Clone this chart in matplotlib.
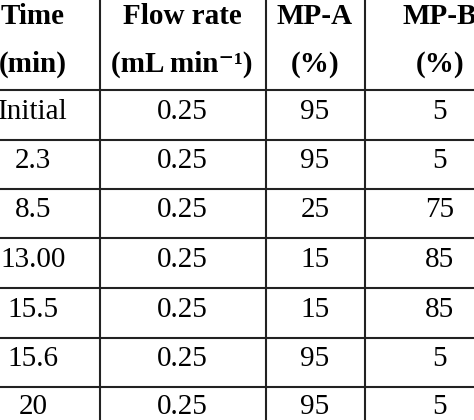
import matplotlib
matplotlib.use("Agg")
import matplotlib.pyplot as plt

# Table contents
headers_top = ["Time", "Flow rate", "MP-A", "MP-B"]
headers_bot = ["(min)", "(mL min\u207b\u00b9)", "(%)", "(%)"]
times = ["Initial", "2.3", "8.5", "13.00", "15.5", "15.6", "20"]
flow = ["0.25"] * 7
mp_a = ["95", "95", "25", "15", "15", "95", "95"]
mp_b = ["5", "5", "75", "85", "85", "5", "5"]

W, H = 474, 420
col_x = [33, 182, 315, 440]          # text centres (px)
vlines = [100, 266, 365]
hlines = [90, 140, 189, 238, 288, 338, 387]
row_y = [112, 161, 210, 260, 310, 359, 407]

plt.rcParams["font.family"] = ["Liberation Serif", "DejaVu Serif"]

fig = plt.figure(figsize=(W / 100, H / 100), dpi=100)
ax = fig.add_axes([0, 0, 1, 1])
ax.set_xlim(0, W)
ax.set_ylim(H, 0)
ax.axis("off")

for x in vlines:
    ax.plot([x, x], [0, H], color="#222222", lw=1.5)
for y in hlines:
    ax.plot([0, W], [y, y], color="#222222", lw=1.5)

fs = 21
for x, t, b in zip(col_x, headers_top, headers_bot):
    ax.text(x, 17, t, ha="center", va="center", fontsize=fs, fontweight="bold")
    ax.text(x, 64, b, ha="center", va="center", fontsize=fs, fontweight="bold")

for i, y in enumerate(row_y):
    for x, col in zip(col_x, [times, flow, mp_a, mp_b]):
        ax.text(x, y, col[i], ha="center", va="center", fontsize=fs)

fig.savefig("out.png", dpi=100)
